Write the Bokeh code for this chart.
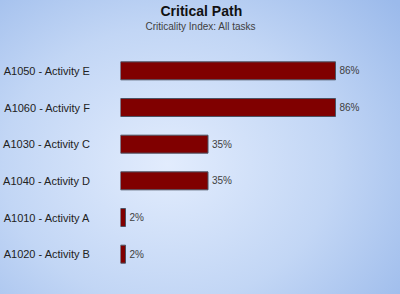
from bokeh.plotting import figure
from bokeh.models import Range1d, Title, InlineStyleSheet, ColumnDataSource
from bokeh.core.properties import value
from bokeh.embed import file_html
from bokeh.resources import INLINE

# Data (top to bottom as shown)
activities = ["A1050 - Activity E", "A1060 - Activity F", "A1030 - Activity C",
              "A1040 - Activity D", "A1010 - Activity A", "A1020 - Activity B"]
criticality = [86, 86, 35, 35, 2, 2]
value_labels = ["86%", "86%", "35%", "35%", "2%", "2%"]

title_text = "Critical Path"
subtitle_text = "Criticality Index: All tasks"

FONT = "Liberation Sans"

src = ColumnDataSource(dict(y=activities, v=criticality, lab=value_labels))

p = figure(width=400, height=294, output_backend="svg", toolbar_location=None,
           y_range=list(reversed(activities)), x_range=Range1d(0, 100),
           min_border_left=120, min_border_right=30, min_border_top=52,
           min_border_bottom=22)

p.stylesheets = [InlineStyleSheet(css=":host { background: radial-gradient(ellipse 75% 85% at 42% 56%, #e2ecfd 0%, #c2d6f5 55%, #9bbaeb 100%); }")]
p.background_fill_color = None
p.border_fill_color = None
p.outline_line_color = None
p.xgrid.visible = False
p.ygrid.visible = False
p.xaxis.visible = False

p.yaxis.axis_line_color = None
p.yaxis.major_tick_line_color = None
p.yaxis.minor_tick_line_color = None
p.yaxis.major_tick_out = 0
p.yaxis.major_tick_in = 0
p.yaxis.major_label_standoff = 30
p.yaxis.major_label_text_font = FONT
p.yaxis.major_label_text_font_size = "11px"
p.yaxis.major_label_text_color = "#222222"

p.hbar(y="y", right="v", left=0, height=0.49, source=src,
       fill_color="#800000", line_color="#4a5363", line_width=1)

p.text(x="v", y="y", text="lab", source=src, x_offset=4,
       text_baseline="middle", text_align="left", text_font=value(FONT),
       text_font_size="10px", text_color="#404040")

p.title = Title(text=title_text, align="left", offset=40, text_font=FONT,
                text_font_size="14px", text_font_style="bold", text_color="#111111",
                standoff=0)
# spacer between subtitle and plot area
p.add_layout(Title(text=" ", text_font=FONT, text_font_size="10px", standoff=8), "above")
p.add_layout(Title(text=subtitle_text, align="left", offset=25, text_font=FONT,
                   text_font_size="10px", text_font_style="normal",
                   text_color="#404040", standoff=0), "above")

open("out.html", "w").write(file_html(p, INLINE))
